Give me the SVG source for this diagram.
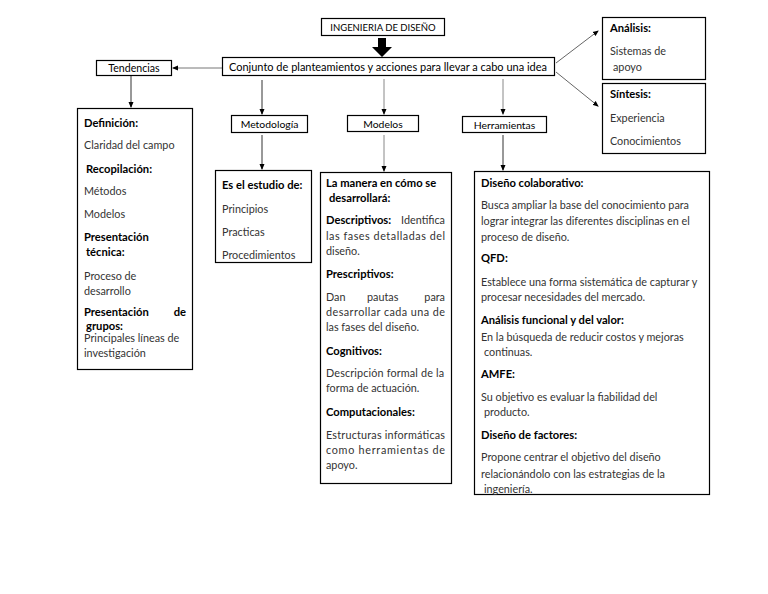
<svg xmlns="http://www.w3.org/2000/svg" width="768" height="594" viewBox="0 0 768 594">
<defs>
<style>
.box{fill:#fff;stroke:#000;stroke-width:1.2}
.t{font-family:Lato,"Open Sans",sans-serif;fill:#000}
.h{font-family:Lato,"Open Sans",sans-serif;font-weight:bold;font-size:11.2px;fill:#000}
.b{font-family:Lato,"Open Sans",sans-serif;font-size:10.8px;fill:#333}
.c{stroke:#333;stroke-width:1;fill:none;marker-end:url(#ah)}
</style>
<marker id="ah" markerWidth="6" markerHeight="6" refX="5" refY="3" orient="auto" markerUnits="userSpaceOnUse">
<path d="M0,0.5 L6,3 L0,5.5 z" fill="#000"/>
</marker>
</defs>
<rect width="768" height="594" fill="#fff"/>

<g id="connectors">
<path d="M378,38 h8 v9 h6 l-10,10 l-10,-10 h6 z" fill="#000"/>
<line class="c" x1="222" y1="68" x2="173" y2="68" style="stroke:#777"/>
<line class="c" x1="131" y1="76" x2="131" y2="107"/>
<line class="c" x1="262" y1="80" x2="262" y2="114"/>
<line class="c" x1="384" y1="79" x2="384" y2="114" style="stroke:#888"/>
<line class="c" x1="503" y1="79" x2="503" y2="114" style="stroke:#888"/>
<line class="c" x1="262" y1="135" x2="262" y2="169"/>
<line class="c" x1="384" y1="135" x2="384" y2="171" style="stroke:#888"/>
<line class="c" x1="503" y1="135" x2="503" y2="170"/>
<line class="c" x1="556" y1="63" x2="598" y2="31" style="stroke:#666"/>
<line class="c" x1="556" y1="72" x2="598" y2="106" style="stroke:#666"/>
</g>

<g id="n-ingenieria">
<rect class="box" x="321.5" y="18.5" width="123" height="17"/>
<text class="t" x="383" y="31" font-size="9.5" text-anchor="middle">INGENIERIA DE DISEÑO</text>
</g>

<g id="n-conjunto">
<rect class="box" x="222.5" y="57.5" width="332" height="18"/>
<text class="t" x="388" y="71" font-size="10.6" text-anchor="middle" textLength="318" lengthAdjust="spacingAndGlyphs">Conjunto de planteamientos y acciones para llevar a cabo una idea</text>
</g>

<g id="n-tendencias">
<rect class="box" x="96.5" y="60.5" width="75" height="15"/>
<text class="t" x="134" y="72" font-size="10.6" text-anchor="middle">Tendencias</text>
</g>

<g id="n-metodologia">
<rect class="box" x="231.5" y="115.5" width="76" height="17"/>
<text class="t" x="269.5" y="128" font-size="10.4" text-anchor="middle">Metodología</text>
</g>

<g id="n-modelos">
<rect class="box" x="347.5" y="115.5" width="71" height="16"/>
<text class="t" x="383" y="127.5" font-size="10.4" text-anchor="middle">Modelos</text>
</g>

<g id="n-herramientas">
<rect class="box" x="462.5" y="116.5" width="84" height="16"/>
<text class="t" x="504.5" y="128.5" font-size="10.4" text-anchor="middle">Herramientas</text>
</g>

<g id="n-analisis">
<rect class="box" x="602.5" y="17.5" width="103" height="62"/>
<text class="h" x="610" y="32">Análisis:</text>
<text class="b" x="610" y="55">Sistemas de</text>
<text class="b" x="613" y="71">apoyo</text>
</g>

<g id="n-sintesis">
<rect class="box" x="602.5" y="83.5" width="103" height="70"/>
<text class="h" x="610" y="98">Síntesis:</text>
<text class="b" x="610" y="122">Experiencia</text>
<text class="b" x="610" y="145">Conocimientos</text>
</g>

<g id="n-definicion">
<rect class="box" x="77.5" y="108.5" width="115" height="261"/>
<text class="h" x="84" y="127">Definición:</text>
<text class="b" x="84" y="149">Claridad del campo</text>
<text class="h" x="86" y="173">Recopilación:</text>
<text class="b" x="84" y="195">Métodos</text>
<text class="b" x="84" y="218">Modelos</text>
<text class="h" x="84" y="241">Presentación</text>
<text class="h" x="86" y="256">técnica:</text>
<text class="b" x="84" y="280">Proceso de</text>
<text class="b" x="84" y="295">desarrollo</text>
<text class="h" x="84" y="316">Presentación</text>
<text class="h" x="186" y="316" text-anchor="end">de</text>
<text class="h" x="86" y="330">grupos:</text>
<text class="b" x="84" y="342">Principales líneas de</text>
<text class="b" x="84" y="357">investigación</text>
</g>

<g id="n-estudio">
<rect class="box" x="215.5" y="170.5" width="96" height="92"/>
<text class="h" x="222" y="189">Es el estudio de:</text>
<text class="b" x="222" y="213">Principios</text>
<text class="b" x="222" y="236">Practicas</text>
<text class="b" x="222" y="259">Procedimientos</text>
</g>

<g id="n-manera">
<rect class="box" x="320.5" y="172.5" width="131" height="311"/>
<text class="h" x="326" y="187">La manera en cómo se</text>
<text class="h" x="329" y="202">desarrollará:</text>
<text class="h" x="326" y="224">Descriptivos:</text>
<text class="b" x="445" y="224" font-size="10" text-anchor="end">Identifica</text>
<text class="b" x="326" y="240" textLength="119" lengthAdjust="spacing">las fases detalladas del</text>
<text class="b" x="326" y="255">diseño.</text>
<text class="h" x="326" y="278">Prescriptivos:</text>
<text class="b" x="326" y="301">Dan</text>
<text class="b" x="367" y="301">pautas</text>
<text class="b" x="445" y="301" text-anchor="end">para</text>
<text class="b" x="326" y="316" textLength="119" lengthAdjust="spacing">desarrollar cada una de</text>
<text class="b" x="326" y="331">las fases del diseño.</text>
<text class="h" x="326" y="355">Cognitivos:</text>
<text class="b" x="326" y="377" textLength="118" lengthAdjust="spacing">Descripción formal de la</text>
<text class="b" x="326" y="392">forma de actuación.</text>
<text class="h" x="326" y="416">Computacionales:</text>
<text class="b" x="326" y="439" textLength="119" lengthAdjust="spacing">Estructuras informáticas</text>
<text class="b" x="326" y="454" textLength="119" lengthAdjust="spacing">como herramientas de</text>
<text class="b" x="326" y="469">apoyo.</text>
</g>

<g id="n-herr-detalle">
<rect class="box" x="474.5" y="171.5" width="235" height="323"/>
<text class="h" x="481" y="187">Diseño colaborativo:</text>
<text class="b" x="481" y="209">Busca ampliar la base del conocimiento para</text>
<text class="b" x="481" y="225">lograr integrar las diferentes disciplinas en el</text>
<text class="b" x="481" y="241">proceso de diseño.</text>
<text class="h" x="481" y="262">QFD:</text>
<text class="b" x="481" y="286">Establece una forma sistemática de capturar y</text>
<text class="b" x="481" y="301">procesar necesidades del mercado.</text>
<text class="h" x="481" y="324">Análisis funcional y del valor:</text>
<text class="b" x="481" y="341">En la búsqueda de reducir costos y mejoras</text>
<text class="b" x="484" y="356">continuas.</text>
<text class="h" x="481" y="378">AMFE:</text>
<text class="b" x="481" y="401">Su objetivo es evaluar la fiabilidad del</text>
<text class="b" x="484" y="416">producto.</text>
<text class="h" x="481" y="439">Diseño de factores:</text>
<text class="b" x="481" y="461">Propone centrar el objetivo del diseño</text>
<text class="b" x="481" y="478">relacionándolo con las estrategias de la</text>
<text class="b" x="484" y="493">ingeniería.</text>
</g>
</svg>
